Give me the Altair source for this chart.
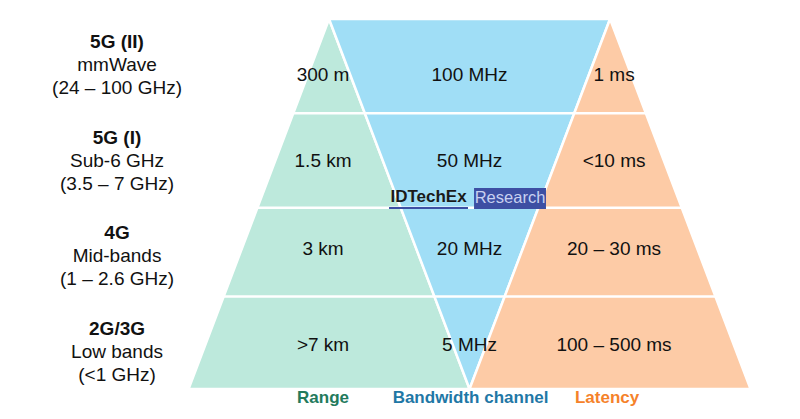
import altair as alt
import pandas as pd

# ---------------- data ----------------
tiers = ["5G (II)", "5G (I)", "4G", "2G/3G"]
bands = ["mmWave", "Sub-6 GHz", "Mid-bands", "Low bands"]
freqs = ["(24 – 100 GHz)", "(3.5 – 7 GHz)", "(1 – 2.6 GHz)", "(<1 GHz)"]
range_vals = ["300 m", "1.5 km", "3 km", ">7 km"]
bandwidth_vals = ["100 MHz", "50 MHz", "20 MHz", "5 MHz"]
latency_vals = ["1 ms", "<10 ms", "20 – 30 ms", "100 – 500 ms"]
metrics = ["Range", "Bandwidth channel", "Latency"]
metric_fill = ["#bde9dc", "#a0def6", "#fdcba6"]
metric_text = ["#237a5c", "#1f78a6", "#f5822a"]

# tier boundary heights (top of pyramid = 4, base = 0)
boundaries = [4.0, 2.98, 1.96, 1.0, 0.0]
# each metric's shape: [x_left, x_right] at top and at base (column units)
shape_top = [[0, 0], [0, 2], [2, 2]]
shape_base = [[-1, 1], [1, 1], [1, 3]]

# ---------------- layout ----------------
W, H = 784, 403
XD = [-2.285, 3.295]
YD = [-0.238, 4.119]
PX_PER_Y = H / (YD[1] - YD[0])
FONT = "Liberation Sans"

xs = alt.Scale(domain=XD, nice=False, zero=False)
ys = alt.Scale(domain=YD, nice=False, zero=False)

shape_rows = []
for m, name in enumerate(metrics):
    shape_rows.append({"metric": name, "y": boundaries[0], "x": shape_top[m][0], "x2": shape_top[m][1]})
    shape_rows.append({"metric": name, "y": boundaries[-1], "x": shape_base[m][0], "x2": shape_base[m][1]})
shapes = pd.DataFrame(shape_rows)

areas = alt.Chart(shapes).mark_area(orient="horizontal", stroke="white", strokeWidth=2.5, opacity=1).encode(
    y=alt.Y("y:Q", scale=ys, axis=None),
    x=alt.X("x:Q", scale=xs, axis=None),
    x2="x2:Q",
    color=alt.Color("metric:N", scale=alt.Scale(domain=metrics, range=metric_fill), legend=None),
)

lines = pd.DataFrame({"y": boundaries[1:-1]})
rules = alt.Chart(lines).mark_rule(color="white", strokeWidth=2.5).encode(
    y=alt.Y("y:Q", scale=ys),
    x=alt.datum(-1.1, scale=xs),
    x2=alt.datum(3.1),
)

centers = [(boundaries[i] + boundaries[i + 1]) / 2 for i in range(4)]
label_nudge = [-1, 0, 4, 9]      # px, downward
value_nudge = [9, 0, -3, 2]      # px, downward

left = pd.DataFrame({
    "tier": tiers, "band": bands, "freq": freqs,
    "y": [c - n / PX_PER_Y for c, n in zip(centers, label_nudge)],
})
left_layers = []
for field, dy, weight in [("tier", -23, "bold"), ("band", 0, "normal"), ("freq", 23, "normal")]:
    left_layers.append(
        alt.Chart(left).mark_text(font=FONT, fontSize=19, fontWeight=weight, color="#111111",
                                  baseline="middle", align="center", dy=dy).encode(
            x=alt.datum(-1.509, scale=xs), y=alt.Y("y:Q", scale=ys), text=f"{field}:N")
    )

vals = pd.DataFrame({
    "range": range_vals, "bandwidth": bandwidth_vals, "latency": latency_vals,
    "y": [c - n / PX_PER_Y for c, n in zip(centers, value_nudge)],
})
value_layers = []
for m, (field, dx) in enumerate([("range", -6), ("bandwidth", 0), ("latency", 4)]):
    value_layers.append(
        alt.Chart(vals).mark_text(font=FONT, fontSize=19, color="#111111", baseline="middle",
                                  align="center", dx=dx).encode(
            x=alt.datum(m, scale=xs), y=alt.Y("y:Q", scale=ys), text=f"{field}:N")
    )

foot_layers = []
for m, (name, dx) in enumerate(zip(metrics, [-6, 1, -3])):
    foot_layers.append(
        alt.Chart(pd.DataFrame({"metric": [name]})).mark_text(
            font=FONT, fontSize=17, fontWeight="bold", baseline="middle", align="center",
            color=metric_text[m], dx=dx).encode(
            x=alt.datum(m, scale=xs), y=alt.datum(-0.097, scale=ys), text="metric:N")
    )

# watermark
wm_box = alt.Chart(pd.DataFrame({"a": [0]})).mark_rect(color="#3d4fa3").encode(
    x=alt.datum(1.032, scale=xs), x2=alt.datum(1.544),
    y=alt.datum(1.946, scale=ys), y2=alt.datum(2.173),
)
wm_under = alt.Chart(pd.DataFrame({"a": [0]})).mark_rule(color="#3d4fa3", strokeWidth=2).encode(
    x=alt.datum(0.427, scale=xs), x2=alt.datum(0.989), y=alt.datum(1.957, scale=ys),
)
wm_text1 = alt.Chart(pd.DataFrame({"t": ["IDTechEx"]})).mark_text(
    font=FONT, fontSize=17, fontWeight="bold", color="#1a1a1a", baseline="middle", align="center").encode(
    x=alt.datum(0.708, scale=xs), y=alt.datum(2.076, scale=ys), text="t:N")
wm_text2 = alt.Chart(pd.DataFrame({"t": ["Research"]})).mark_text(
    font=FONT, fontSize=16.5, color="#c8d1f1", baseline="middle", align="center").encode(
    x=alt.datum(1.288, scale=xs), y=alt.datum(2.062, scale=ys), text="t:N")

chart = alt.layer(
    areas, rules, wm_box, wm_under, wm_text1, wm_text2, *left_layers, *value_layers, *foot_layers
).properties(width=W, height=H, padding=0, background="white").configure_view(stroke=None)

chart.save("out.html", embed_options={"renderer": "svg", "actions": False})
